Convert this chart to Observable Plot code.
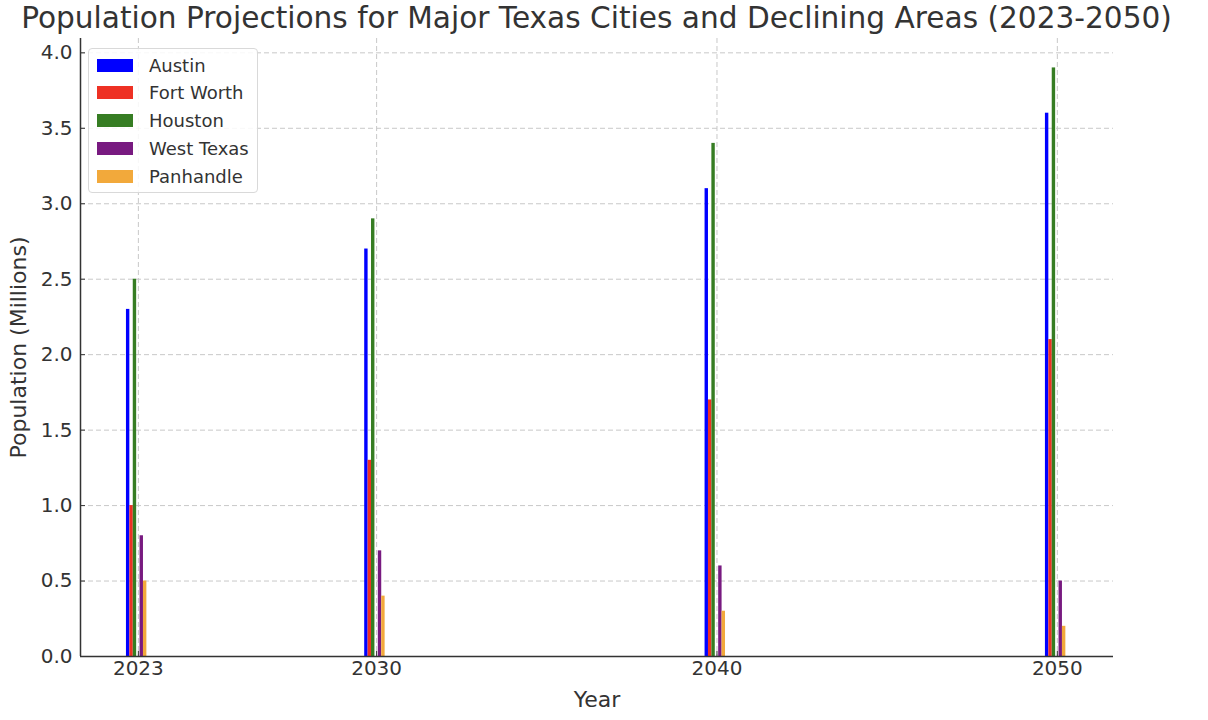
<!DOCTYPE html>
<html>
<head>
<meta charset="utf-8">
<script src="https://cdn.jsdelivr.net/npm/d3@7"></script>
<script src="https://cdn.jsdelivr.net/npm/@observablehq/plot@0.6"></script>
<style>
  body { margin: 0; background: #fff; font-family: "DejaVu Sans", sans-serif; }
  #wrap { position: relative; width: 1208px; height: 720px; overflow: hidden; }
  #title { width: 1193px; height: 37px; line-height: 37px; text-align: center;
           font-size: 29.6px; color: #333; white-space: nowrap; }
  #legend { position: absolute; left: 88px; top: 48px; width: 170px; height: 145px;
            box-sizing: border-box; border: 1px solid #d9d9d9; border-radius: 4px;
            background: rgba(255,255,255,0.85); }
  .row { position: absolute; left: 0; height: 20px; display: flex; align-items: center;
         font-size: 18px; color: #333; }
  .sw { width: 36px; height: 13px; margin-left: 8px; margin-right: 16px; }
</style>
</head>
<body>
<div id="wrap">
  <div id="title">Population Projections for Major Texas Cities and Declining Areas (2023-2050)</div>
  <div id="chart"></div>
  <div id="legend"></div>
</div>
<script>
// Projected population (millions) by year
const years = [2023, 2030, 2040, 2050];
const austin = [2.3, 2.7, 3.1, 3.6];
const fortWorth = [1.0, 1.3, 1.7, 2.1];
const houston = [2.5, 2.9, 3.4, 3.9];
const westTexas = [0.8, 0.7, 0.6, 0.5];
const panhandle = [0.5, 0.4, 0.3, 0.2];
const seriesNames = ["Austin", "Fort Worth", "Houston", "West Texas", "Panhandle"];
const yTicks = [0, 0.5, 1, 1.5, 2, 2.5, 3, 3.5, 4];

// Styling: colours and bar placement around each year
const seriesColors = ["#0000ff", "#ee3124", "#367d23", "#781a80", "#f2a93b"];
const barOffsets = [-0.3, -0.2, -0.1, 0.1, 0.2];
const barWidth = 0.1;

const seriesValues = [austin, fortWorth, houston, westTexas, panhandle];
const rows = [];
seriesNames.forEach((name, s) => {
  years.forEach((yr, i) => {
    rows.push({
      series: name,
      year: yr,
      value: seriesValues[s][i],
      x1: yr + barOffsets[s] - barWidth / 2,
      x2: yr + barOffsets[s] + barWidth / 2
    });
  });
});

const xDomain = [2021.3, 2051.65];
const ink = "#333";
const gridStyle = { stroke: "#c8c8c8", strokeOpacity: 1, strokeDasharray: "5,3", strokeWidth: 1 };

const chart = Plot.plot({
  width: 1208,
  height: 683,
  marginTop: 1,
  marginLeft: 80,
  marginRight: 95,
  marginBottom: 64,
  style: { fontFamily: "DejaVu Sans, sans-serif", color: ink, background: "transparent" },
  x: { type: "linear", domain: xDomain },
  y: { domain: [0, 4.095] },
  color: { domain: seriesNames, range: seriesColors },
  marks: [
    Plot.gridY(yTicks.filter(d => d > 0), gridStyle),
    Plot.gridX(years, gridStyle),
    Plot.rectY(rows, { x1: "x1", x2: "x2", y: "value", fill: "series", insetLeft: 0, insetRight: 0 }),
    Plot.axisY(yTicks, {
      tickSize: -5, tickPadding: 13, tickFormat: d3.format(".1f"), fontSize: 20,
      stroke: ink, label: null
    }),
    Plot.axisY({
      ticks: [], tickSize: 0, fontSize: 22, label: "Population (Millions)",
      labelAnchor: "center", labelArrow: "none", labelOffset: 70
    }),
    Plot.axisX(years, {
      tickSize: -5, tickPadding: 9, tickFormat: d => String(d), fontSize: 20,
      stroke: ink, label: null
    }),
    Plot.axisX({
      ticks: [], tickSize: 0, fontSize: 22, label: "Year",
      labelAnchor: "center", labelArrow: "none", labelOffset: 50
    }),
    Plot.ruleY([0], { stroke: ink, strokeWidth: 1.5 }),
    Plot.ruleX([xDomain[0]], { stroke: ink, strokeWidth: 1.5 })
  ]
});
document.getElementById("chart").appendChild(chart);

// Legend
const legend = document.getElementById("legend");
seriesNames.forEach((name, i) => {
  const row = document.createElement("div");
  row.className = "row";
  row.style.top = (6 + i * 27.75) + "px";
  const sw = document.createElement("div");
  sw.className = "sw";
  sw.style.background = seriesColors[i];
  const label = document.createElement("span");
  label.textContent = name;
  row.appendChild(sw);
  row.appendChild(label);
  legend.appendChild(row);
});
</script>
</body>
</html>
